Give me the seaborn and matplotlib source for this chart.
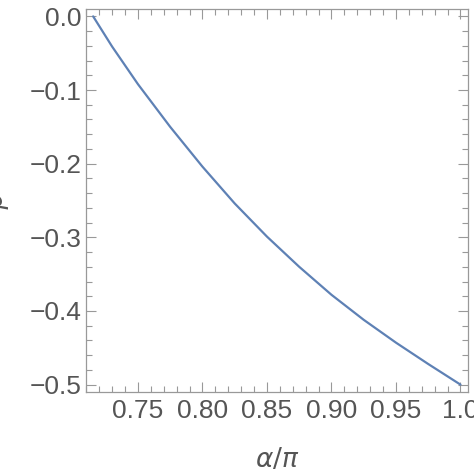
import matplotlib
matplotlib.use("Agg")
import matplotlib.pyplot as plt
import seaborn as sns
import pandas as pd
from matplotlib.ticker import MultipleLocator

# values
alpha_over_pi = [0.7153, 0.73, 0.75, 0.775, 0.80, 0.825, 0.85, 0.875, 0.90, 0.925, 0.95, 0.975, 1.0]
rho = [0.0, -0.041, -0.092, -0.150, -0.204, -0.254, -0.299, -0.340, -0.378, -0.412, -0.443, -0.472, -0.500]
xtick_vals = [0.75, 0.80, 0.85, 0.90, 0.95, 1.0]
xtick_labels = ["0.75", "0.80", "0.85", "0.90", "0.95", "1.0"]
ytick_vals = [0.0, -0.1, -0.2, -0.3, -0.4, -0.5]
ytick_labels = ["0.0", "\u22120.1", "\u22120.2", "\u22120.3", "\u22120.4", "\u22120.5"]

data = pd.DataFrame({"x": alpha_over_pi, "y": rho})

sns.set_style("ticks")
plt.rcParams['font.family'] = ['Liberation Sans', 'DejaVu Sans']

fig = plt.figure(figsize=(4.74, 4.74), dpi=100)
ax = fig.add_axes([0.181, 0.173, 0.806, 0.808])

sns.lineplot(data=data, x="x", y="y", ax=ax, color="#5E81B5", linewidth=1.6)

ax.set_xlim(0.7096, 1.0057)
ax.set_ylim(-0.51, 0.01)
ax.set_xticks(xtick_vals)
ax.set_xticklabels(xtick_labels)
ax.set_yticks(ytick_vals)
ax.set_yticklabels(ytick_labels)
ax.xaxis.set_minor_locator(MultipleLocator(0.01))
ax.yaxis.set_minor_locator(MultipleLocator(0.02))

grey = "#999999"
for s in ax.spines.values():
    s.set_color(grey)
    s.set_linewidth(0.9)
ax.tick_params(which="both", direction="in", top=True, right=True, color=grey,
               labelcolor="#555555", labelsize=19, width=0.8)
ax.tick_params(which="major", length=7)
ax.tick_params(which="minor", length=4)
ax.tick_params(axis="x", pad=5)
ax.tick_params(axis="y", pad=3)

ax.set_xlabel(r"$\alpha/\pi$", fontsize=19, color="#555555")
ax.set_ylabel(r"$\rho$", fontsize=19, color="#555555", rotation=90)
ax.xaxis.set_label_coords(0.5, -0.14)
ax.yaxis.set_label_coords(-0.195, 0.5)

fig.savefig("out.png", dpi=100)
